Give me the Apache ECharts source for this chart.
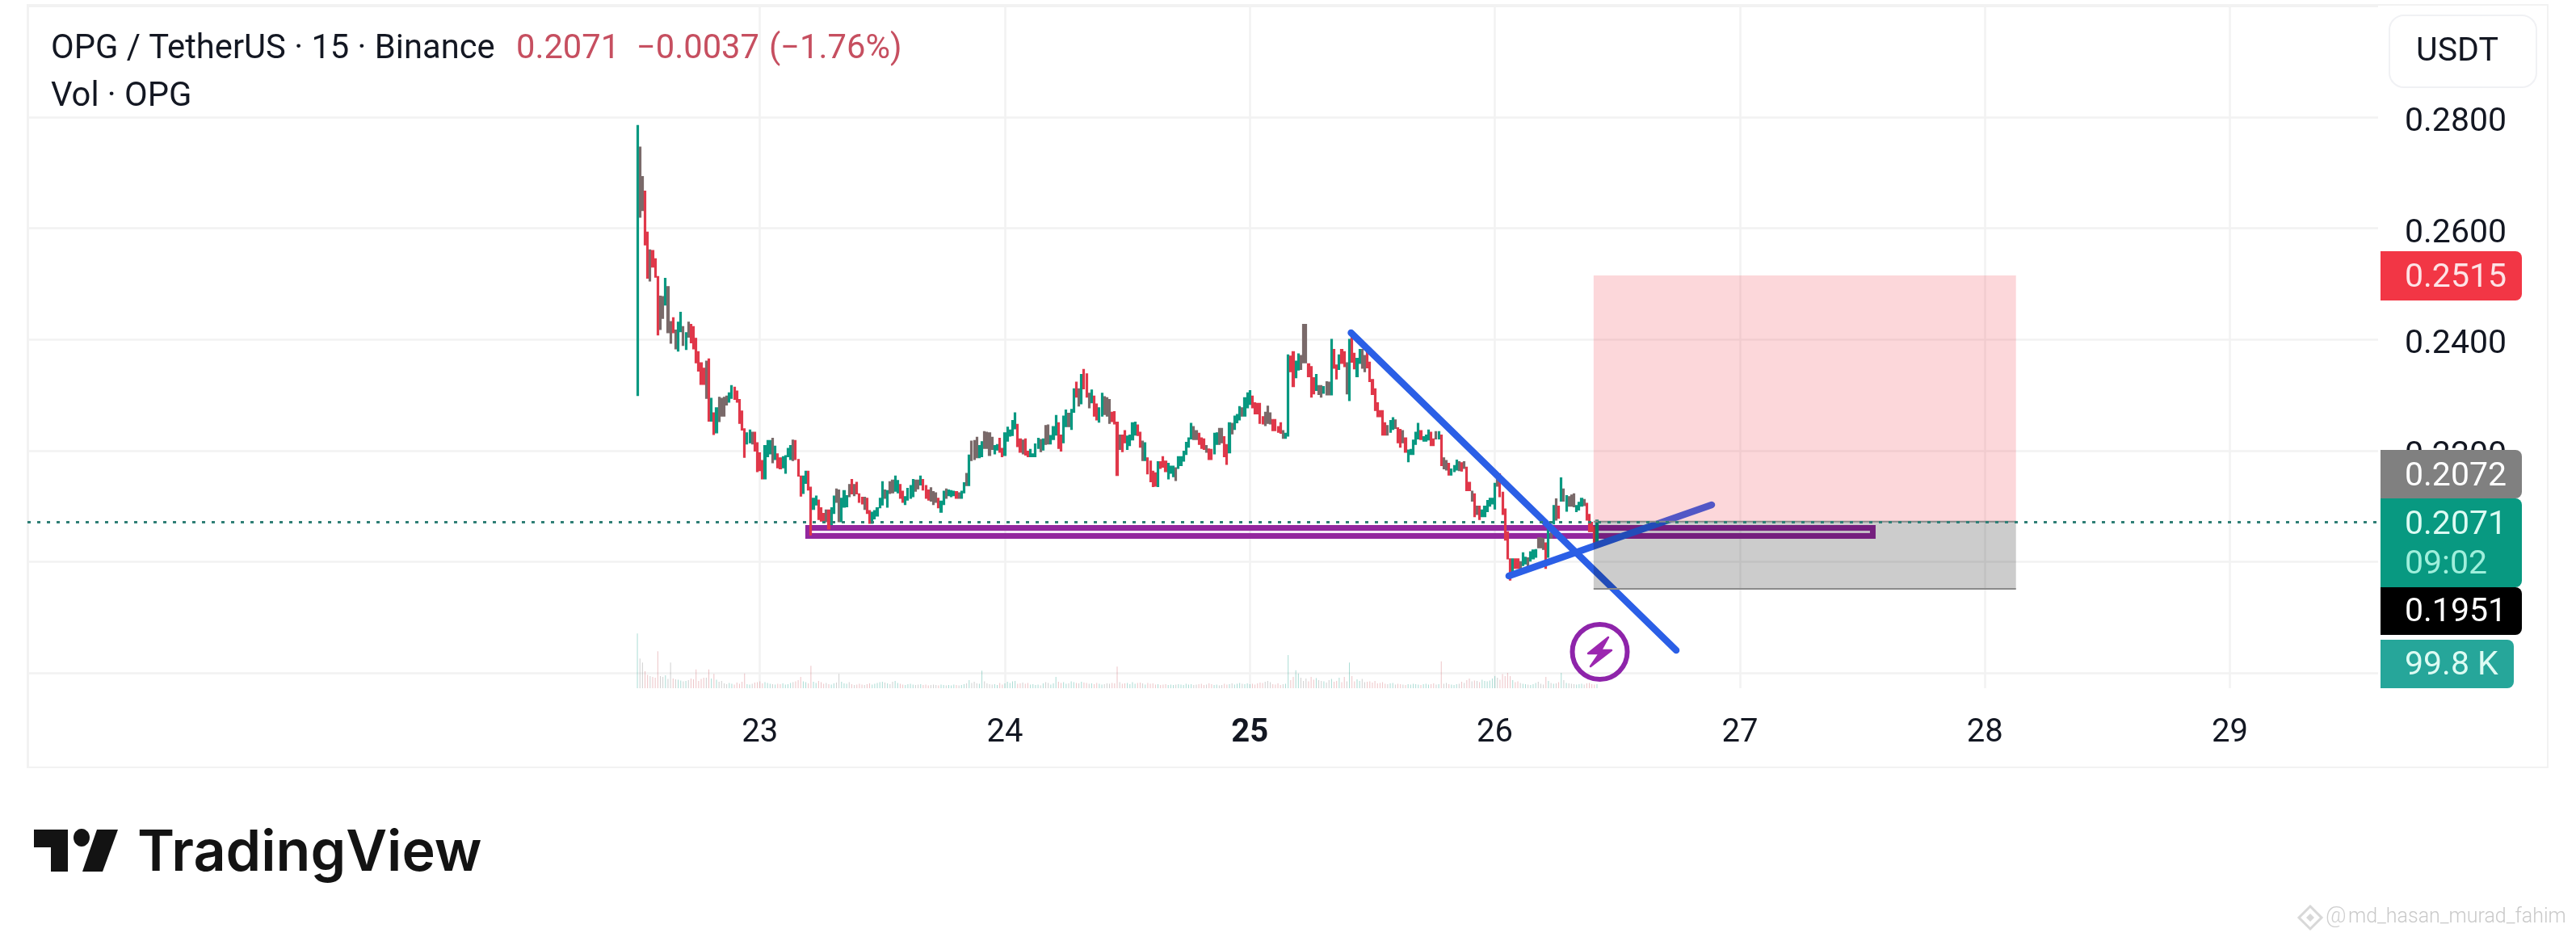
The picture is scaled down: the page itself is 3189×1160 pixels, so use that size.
<!DOCTYPE html>
<html>
<head>
<meta charset="utf-8">
<style>html,body{margin:0;padding:0;background:#fff}#c{width:3189px;height:1160px}</style>
<script src="https://cdn.jsdelivr.net/npm/echarts@6/dist/echarts.min.js"></script>
</head>
<body>
<div id="c"></div>
<script>
// 15-minute bars. firstBarDay is the time of bar 0 in days of the month.
const firstBarDay = 22.5;
const barsPerDay = 96;

const highs = [
.2785,.2746,.2693,.2667,.2593,.2561,.2560,.2545,.2513,.2478,
.2477,.2510,.2495,.2432,.2439,.2417,.2431,.2449,.2423,.2412,
.2431,.2427,.2423,.2402,.2378,.2358,.2348,.2361,.2365,.2294,
.2268,.2277,.2296,.2294,.2296,.2298,.2304,.2317,.2314,.2307,
.2292,.2271,.2239,.2232,.2237,.2233,.2233,.2214,.2196,.2182,
.2209,.2218,.2218,.2222,.2208,.2194,.2187,.2189,.2191,.2204,
.2209,.2219,.2218,.2184,.2154,.2154,.2163,.2163,.2134,.2114,
.2118,.2111,.2097,.2087,.2093,.2093,.2097,.2118,.2131,.2129,
.2114,.2128,.2119,.2139,.2148,.2139,.2143,.2122,.2116,.2116,
.2114,.2092,.2089,.2092,.2097,.2114,.2144,.2129,.2128,.2144,
.2147,.2154,.2146,.2139,.2127,.2117,.2132,.2137,.2148,.2147,
.2147,.2154,.2148,.2137,.2129,.2133,.2126,.2124,.2114,.2109,
.2127,.2131,.2129,.2128,.2127,.2126,.2124,.2127,.2142,.2159,
.2192,.2217,.2218,.2224,.2209,.2216,.2234,.2233,.2232,.2224,
.2209,.2211,.2222,.2204,.2232,.2242,.2237,.2254,.2268,.2247,
.2221,.2219,.2221,.2199,.2202,.2194,.2212,.2222,.2220,.2221,
.2245,.2246,.2227,.2243,.2263,.2250,.2228,.2262,.2273,.2267,
.2274,.2311,.2323,.2311,.2337,.2346,.2338,.2303,.2309,.2298,
.2284,.2277,.2303,.2297,.2295,.2292,.2269,.2270,.2251,.2228,
.2228,.2236,.2226,.2228,.2250,.2251,.2246,.2233,.2217,.2214,
.2187,.2181,.2163,.2160,.2180,.2180,.2189,.2181,.2177,.2172,
.2172,.2169,.2189,.2189,.2199,.2215,.2223,.2249,.2243,.2236,
.2231,.2223,.2221,.2209,.2203,.2202,.2231,.2232,.2240,.2240,
.2225,.2211,.2250,.2249,.2262,.2265,.2279,.2277,.2295,.2304,
.2308,.2298,.2286,.2285,.2285,.2261,.2269,.2280,.2268,.2256,
.2256,.2243,.2250,.2236,.2231,.2372,.2370,.2378,.2361,.2374,
.2371,.2427,.2427,.2356,.2351,.2331,.2337,.2317,.2317,.2315,
.2324,.2323,.2400,.2382,.2354,.2372,.2382,.2378,.2358,.2400,
.2414,.2375,.2366,.2382,.2382,.2371,.2382,.2359,.2328,.2311,
.2286,.2272,.2272,.2250,.2245,.2254,.2259,.2255,.2241,.2238,
.2236,.2223,.2201,.2202,.2219,.2233,.2249,.2236,.2225,.2228,
.2237,.2233,.2221,.2234,.2234,.2228,.2187,.2182,.2177,.2167,
.2173,.2183,.2180,.2178,.2180,.2170,.2143,.2127,.2122,.2100,
.2100,.2093,.2100,.2110,.2114,.2114,.2141,.2158,.2158,.2125,
.2095,.2054,.2005,.2005,.2005,.2005,.2000,.2016,.2008,.2007,
.2018,.2021,.2022,.2043,.2043,.2042,.2034,.2061,.2066,.2101,
.2113,.2100,.2151,.2131,.2119,.2117,.2120,.2122,.2101,.2107,
.2114,.2112,.2105,.2085,.2071,.2063,.2075];

const lows = [
.2299,.2620,.2632,.2570,.2510,.2505,.2530,.2512,.2408,.2418,
.2438,.2462,.2412,.2393,.2412,.2383,.2379,.2414,.2389,.2382,
.2404,.2394,.2383,.2358,.2343,.2319,.2319,.2294,.2253,.2253,
.2229,.2232,.2252,.2262,.2262,.2282,.2287,.2294,.2292,.2287,
.2249,.2237,.2188,.2212,.2214,.2212,.2199,.2162,.2164,.2149,
.2149,.2189,.2194,.2178,.2184,.2169,.2167,.2169,.2159,.2189,
.2184,.2182,.2184,.2154,.2118,.2123,.2141,.2129,.2048,.2094,
.2102,.2076,.2073,.2072,.2072,.2059,.2067,.2087,.2107,.2072,
.2072,.2098,.2099,.2117,.2122,.2119,.2122,.2107,.2104,.2094,
.2087,.2069,.2069,.2077,.2082,.2097,.2102,.2114,.2098,.2123,
.2124,.2127,.2124,.2114,.2107,.2103,.2111,.2114,.2117,.2127,
.2131,.2138,.2129,.2114,.2111,.2109,.2103,.2107,.2097,.2089,
.2103,.2114,.2119,.2117,.2119,.2114,.2114,.2114,.2124,.2137,
.2137,.2182,.2184,.2187,.2187,.2189,.2204,.2204,.2191,.2202,
.2194,.2201,.2197,.2189,.2191,.2217,.2226,.2227,.2239,.2207,
.2197,.2194,.2192,.2189,.2189,.2189,.2189,.2204,.2198,.2201,
.2211,.2212,.2212,.2220,.2228,.2204,.2199,.2214,.2243,.2243,
.2238,.2269,.2296,.2280,.2284,.2311,.2296,.2277,.2286,.2262,
.2255,.2251,.2262,.2265,.2262,.2249,.2252,.2248,.2155,.2202,
.2198,.2214,.2202,.2209,.2219,.2228,.2227,.2206,.2182,.2182,
.2158,.2144,.2135,.2136,.2135,.2168,.2170,.2162,.2149,.2159,
.2153,.2146,.2168,.2173,.2181,.2193,.2206,.2221,.2220,.2220,
.2211,.2204,.2202,.2197,.2184,.2184,.2194,.2211,.2211,.2214,
.2189,.2175,.2196,.2230,.2238,.2250,.2255,.2262,.2262,.2277,
.2283,.2277,.2266,.2266,.2249,.2248,.2245,.2249,.2248,.2236,
.2236,.2233,.2231,.2222,.2222,.2226,.2342,.2315,.2331,.2345,
.2346,.2358,.2358,.2333,.2296,.2302,.2308,.2301,.2296,.2303,
.2300,.2300,.2300,.2348,.2329,.2346,.2357,.2351,.2302,.2290,
.2359,.2347,.2333,.2357,.2348,.2342,.2349,.2324,.2301,.2272,
.2261,.2261,.2228,.2228,.2228,.2233,.2238,.2240,.2214,.2206,
.2214,.2197,.2180,.2193,.2193,.2211,.2221,.2220,.2217,.2217,
.2219,.2209,.2209,.2221,.2221,.2173,.2167,.2165,.2156,.2156,
.2162,.2165,.2164,.2163,.2168,.2128,.2128,.2109,.2081,.2085,
.2076,.2081,.2081,.2090,.2100,.2104,.2095,.2136,.2117,.2085,
.2039,.2005,.1967,.1974,.1988,.1988,.1986,.1993,.1996,.1991,
.2001,.2005,.2008,.2025,.2025,.2022,.1988,.2008,.2042,.2068,
.2075,.2078,.2109,.2109,.2091,.2100,.2100,.2099,.2090,.2093,
.2100,.2101,.2075,.2054,.2054,.2027,.2032];

// G = closed up, R = closed down, M = up and down bars merged together in the picture.
const barKinds =
"GMMRRMRRRM"+"MGMMRMGGMG"+"MRRRRRRMRG"+"RGMMMMGGRR"+"RRRGGMRRRR"+
"GGGMGRRGGG"+"GMRRRGGRRG"+"GRRRMRGGMM"+"GGGMRMRRRM"+"RRGGGGGMGM"+
"MGGRRGGGGM"+"MGRRRMMMRG"+"GMGGGRMGGM"+"GMMMGGMMMM"+"GGRRGGGGGR"+
"RMRRGGGGMG"+"MMGGGRRGGM"+"GGRMGRRMGR"+"RGGMMMRRRM"+"RRGGGGRRMG"+
"RRRRGRRRGG"+"GMGGGGGGMM"+"RRRMRRGGMM"+"RRGMGGGMGG"+"GRRRRRMMMR"+
"RRRMGGRRGG"+"MMMRRRGMMG"+"MMGRRGRRMG"+"RRGGMMRRRR"+"RRRRMGGMRR"+
"MRGGGGGRGG"+"GRRMGRMMRG"+"GGMRMRRMRM"+"RGGGGGGMRR"+"RRRGRRMGGM"+
"GGGMMMRGMG"+"MRGMGMMMGG"+"GMRRRRG";

// Volume in thousands of OPG.
const volumes = [
1354,734,634,420,330,300,280,260,914,300,
280,320,230,634,240,220,210,190,170,180,
200,240,220,467,180,230,260,260,467,240,
353,210,160,180,120,100,130,110,90,140,
110,160,367,100,90,110,140,150,170,120,
150,130,110,100,90,110,100,120,90,100,
130,150,170,200,280,170,150,120,554,160,
130,180,150,110,130,100,90,120,140,353,
160,120,110,150,100,80,90,110,90,80,
100,120,90,110,130,150,160,140,120,100,
160,180,130,110,90,80,100,110,90,80,
90,100,80,90,70,80,90,80,70,90,
80,70,80,70,90,80,70,80,100,120,
200,130,160,120,110,434,170,120,100,90,
100,80,130,90,120,160,130,170,180,110,
120,140,110,130,90,100,80,90,70,120,
150,130,90,120,280,160,130,150,110,120,
170,150,130,120,160,140,130,110,120,100,
130,110,90,100,120,110,130,120,534,150,
110,120,130,100,150,110,130,140,120,90,
130,110,120,90,100,80,90,100,80,90,
80,90,100,90,80,110,90,100,80,90,
100,110,80,90,120,100,80,90,70,80,
110,90,100,120,90,110,130,110,100,120,
100,110,90,120,140,130,160,180,150,100,
90,120,80,100,110,820,200,280,447,367,
260,180,240,170,280,210,250,200,180,170,
140,200,230,160,180,260,150,280,170,634,
300,170,220,180,230,150,160,170,140,180,
120,130,150,110,100,120,130,90,110,100,
90,80,100,90,110,100,90,80,100,110,
90,100,120,90,100,667,110,130,100,90,
80,100,110,160,130,200,240,170,190,180,
150,210,180,170,190,240,300,260,210,350,
300,380,300,200,150,170,130,110,100,90,
80,100,130,160,110,90,280,180,130,110,
120,150,380,200,130,120,110,100,90,100,
110,90,120,130,100,90,99.8];

const dayTicks = [23,24,25,26,27,28,29];
const boldDay = 25;
const priceTicks = [0.28,0.26,0.24,0.22,0.20,0.18];
const lastPrice = 0.2071;
const entryPrice = 0.2072;
const stopPrice = 0.2515;
const targetPrice = 0.1951;
const positionDays = [26.403,28.127];
const zoneDays = [23.197,27.5425];
const zonePrices = [0.20465,0.2061];
const trendA = [[25.413,0.2412],[26.74,0.18407]];
const trendB = [[26.057,0.19744],[26.885,0.21023]];
const xRange = [20.01055,29.60501];
const priceRange = [0.17724,0.29991];
const volumeRange = [0,16880];

const UP='#089981', DOWN='#E0384A', MIX='#7a6a6a', GRID='#f2f2f2', INK='#131722', PURPLE='#8E24AA';

const dayOf = i => firstBarDay + i / barsPerDay;
const candleData = highs.map((h,i)=>{
  const k = barKinds[i], l = lows[i];
  const up = k==='G';
  const v = [dayOf(i), up?l:h, up?h:l, l, h];
  if(k==='M') return {value:v,itemStyle:{color0:MIX,borderColor0:MIX,color:MIX,borderColor:MIX}};
  return {value:v};
});
const volumeColors={G:'rgba(8,153,129,.34)',R:'rgba(200,70,80,.32)',M:'rgba(110,110,110,.32)'};
const volumeData = volumes.map((v,i)=>({value:[dayOf(i),v],itemStyle:{color:volumeColors[barKinds[i]]}}));

function rectRender(style){
  return function(p,api){
    const a=api.coord([api.value(0),api.value(2)]), b=api.coord([api.value(1),api.value(3)]);
    return {type:'rect',shape:{x:Math.min(a[0],b[0]),y:Math.min(a[1],b[1]),width:Math.abs(b[0]-a[0]),height:Math.abs(b[1]-a[1])},style:style,silent:true};
  };
}
const rectEncode={x:[0,1],y:[2,3]};
const FONT='Roboto';
function label(y0,y1,right,fill,lines){
  const out=[{type:'rect',z:50,shape:{x:2947,y:y0,width:right-2947,height:y1-y0,r:[0,8,8,0]},style:{fill:fill}}];
  lines.forEach(t=>out.push({type:'text',z:51,style:{x:2977,y:t[1]+3,text:t[0],fill:t[2],font:'41px '+FONT,textVerticalAlign:'middle'}}));
  return out;
}
function txt(x,y,s,fill,font,z){return {type:'text',z:z||50,style:{x:x,y:y,text:s,fill:fill,font:font,textVerticalAlign:'middle'}};}

const graphics=[
  {type:'rect',z:0,shape:{x:34,y:5,width:2910,height:4},style:{fill:GRID}},
  {type:'rect',z:0,shape:{x:2944,y:5,width:210,height:2},style:{fill:GRID}},
  {type:'rect',z:0,shape:{x:33,y:5,width:3,height:946},style:{fill:GRID}},
  {type:'rect',z:0,shape:{x:3153,y:5,width:2,height:946},style:{fill:GRID}},
  {type:'rect',z:0,shape:{x:34,y:949,width:3121,height:2},style:{fill:GRID}},
  txt(63,62,'OPG / TetherUS · 15 · Binance',INK,'41.7px '+FONT),
  txt(639,62,'0.2071','#C64F60','41.7px '+FONT),
  txt(788,62,'−0.0037','#C64F60','41.7px '+FONT),
  txt(952,62,'(−1.76%)','#C64F60','41.7px '+FONT),
  txt(63,121,'Vol · OPG',INK,'41.7px '+FONT),
  {type:'rect',z:50,shape:{x:2958,y:19,width:182,height:89,r:18},style:{fill:'#fff',stroke:'#f0f1f4',lineWidth:2}},
  {type:'text',z:51,style:{x:3042,y:65,text:'USDT',fill:INK,font:'41px '+FONT,textAlign:'center',textVerticalAlign:'middle'}},
  ...label(311,372,3122,'#F23645',[['0.2515',342,'#FDE3E6']]),
  ...label(557,617,3122,'#808080',[['0.2072',588,'#ffffff']]),
  ...label(617,727,3122,'#089981',[['0.2071',648,'#DDFBF3'],['09:02',697,'#9FEFDC']]),
  ...label(727,786,3122,'#000000',[['0.1951',756,'#ffffff']]),
  ...label(792,852,3112,'#26A69A',[['99.8 K',822,'#DDFBF3']]),
  // lightning badge
  {type:'circle',z:40,shape:{cx:1980.5,cy:807,r:34},style:{fill:'none',stroke:PURPLE,lineWidth:6}},
  {type:'polygon',z:40,shape:{points:[[1991,789],[1966,809],[1980,809],[1969,825],[1995,805],[1982,805]]},style:{fill:'#9C27B0',stroke:'#9C27B0',lineWidth:2.5,lineJoin:'round'}},
  // TradingView wordmark
  {type:'polygon',z:40,shape:{points:[[42,1027],[84,1027],[84,1079],[63,1079],[63,1049],[42,1049]]},style:{fill:'#131313'}},
  {type:'ellipse',z:40,shape:{cx:101,cy:1037,rx:10,ry:11},style:{fill:'#131313'}},
  {type:'polygon',z:40,shape:{points:[[120,1027],[146,1027],[127,1079],[102,1079]]},style:{fill:'#131313'}},
  {type:'text',z:40,style:{x:170,y:1057,text:'TradingView',fill:'#131313',font:'600 70px Inter',textVerticalAlign:'middle'}},
  // watermark
  {type:'polygon',z:40,shape:{points:[[2860,1122],[2874,1136],[2860,1150],[2846,1136]]},style:{fill:'none',stroke:'#d8d8d8',lineWidth:3}},
  {type:'polygon',z:40,shape:{points:[[2860,1131],[2865,1136],[2860,1141],[2855,1136]]},style:{fill:'#d8d8d8'}},
  txt(2879,1135,'@',"#cfcfcf",'300 28px '+FONT,40),
  txt(2907,1136,'md_hasan_murad_fahim','#c9c9c9','300 25px '+FONT,40)
];

const option={
  backgroundColor:'#ffffff',
  animation:false,
  grid:{left:34,right:245,top:8,height:844,containLabel:false},
  xAxis:{type:'value',min:xRange[0],max:xRange[1],
    axisLine:{show:false},axisTick:{show:false},splitLine:{show:false},
    axisLabel:{customValues:dayTicks,margin:36,color:INK,fontFamily:FONT,fontSize:40,
      formatter:v=>v===boldDay?'{b|'+v+'}':''+v,
      rich:{b:{fontWeight:'bold',fontSize:40,fontFamily:FONT,color:INK}}}},
  yAxis:[
    {type:'value',position:'right',min:priceRange[0],max:priceRange[1],scale:true,
     axisLine:{show:false},axisTick:{show:false},splitLine:{show:false},
     axisLabel:{customValues:priceTicks,margin:33,color:INK,fontFamily:FONT,fontSize:41,verticalAlign:'top',lineHeight:14,formatter:v=>v.toFixed(4)}},
    {type:'value',min:volumeRange[0],max:volumeRange[1],show:false,splitLine:{show:false}}
  ],
  series:[
    {name:'grid',type:'line',data:[],silent:true,z:1,
     markLine:{z:1,silent:true,symbol:'none',animation:false,label:{show:false},lineStyle:{color:GRID,width:2.5,type:'solid'},
       data:[...dayTicks.map(d=>({xAxis:d})),...priceTicks.map(p=>({yAxis:p}))]}},
    {name:'Vol',type:'bar',yAxisIndex:1,data:volumeData,barWidth:1,silent:true,z:2},
    {name:'zone',type:'custom',z:3,silent:true,clip:false,encode:rectEncode,
     data:[[zoneDays[0],zoneDays[1],zonePrices[0],zonePrices[1]]],
     renderItem:rectRender({fill:'rgba(156,39,176,.1)',stroke:'#93279E',lineWidth:7})},
    {name:'OPG',type:'candlestick',z:4,large:false,silent:true,data:candleData,encode:{x:0,y:[1,2,3,4]},barWidth:2.6,
     itemStyle:{color:UP,color0:DOWN,borderColor:UP,borderColor0:DOWN,borderWidth:1.2}},
    {name:'trend A',type:'line',z:5,silent:true,data:trendA,symbol:'none',lineStyle:{color:'#2B5FE6',width:8.5,cap:'round'}},
    {name:'trend B',type:'line',z:5,silent:true,data:trendB,symbol:'none',lineStyle:{color:'#2B5FE6',width:8.5,cap:'round'}},
    {name:'stop',type:'custom',z:6,silent:true,encode:rectEncode,
     data:[[positionDays[0],positionDays[1],entryPrice,stopPrice]],
     renderItem:rectRender({fill:'rgba(242,54,69,.2)'})},
    {name:'target',type:'custom',z:6,silent:true,encode:rectEncode,
     data:[[positionDays[0],positionDays[1],targetPrice,entryPrice]],
     renderItem:rectRender({fill:'rgba(0,0,0,.2)'})},
    {name:'target edge',type:'line',z:6,silent:true,symbol:'none',lineStyle:{color:'#8a8a8a',width:2},
     data:[[positionDays[0],targetPrice],[positionDays[1],targetPrice]]},
    {name:'entry edge',type:'line',z:6,silent:true,symbol:'none',lineStyle:{color:'#8a8a8a',width:2},
     data:[[positionDays[0],entryPrice],[positionDays[1],entryPrice]]},
    {name:'last',type:'line',z:7,silent:true,symbol:'none',
     lineStyle:{color:'#2f7f76',width:3,type:[4,8]},
     data:[[xRange[0],lastPrice],[xRange[1],lastPrice]]}
  ],
  graphic:graphics
};
const chart=echarts.init(document.getElementById('c'),null,{renderer:'canvas',width:3189,height:1160});
chart.setOption(option);
</script>
</body>
</html>
